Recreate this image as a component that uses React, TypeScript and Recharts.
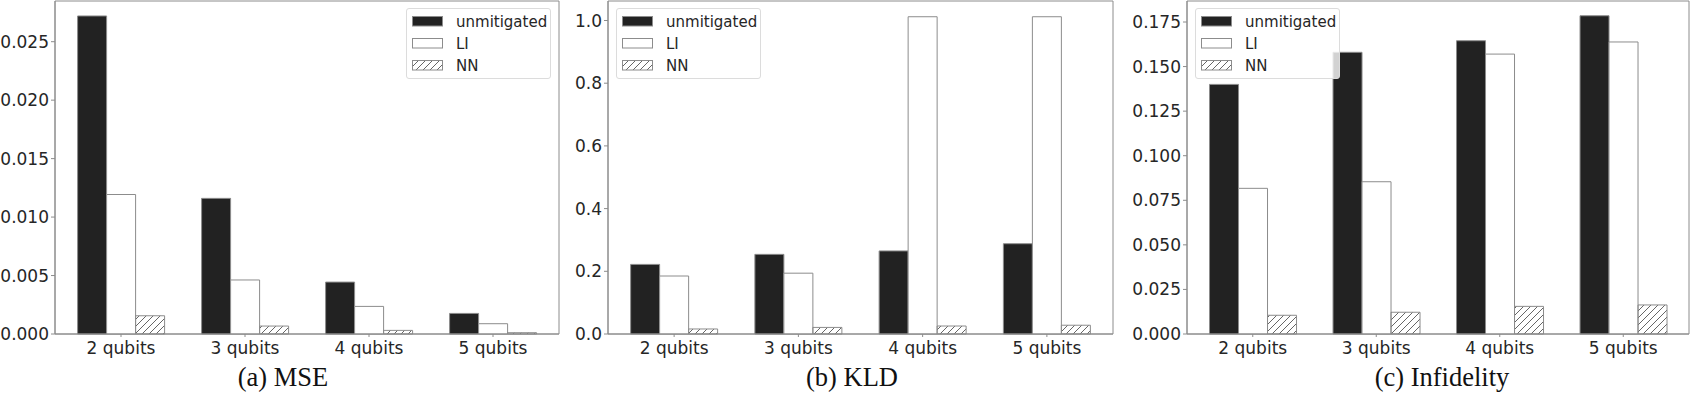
import { BarChart, Bar, XAxis, YAxis, CartesianGrid } from "recharts";

const categories = ["2 qubits", "3 qubits", "4 qubits", "5 qubits"];
const seriesNames = ["unmitigated", "LI", "NN"];

// (a) MSE
const mseUnmitigated = [0.0272, 0.0116, 0.00444, 0.00176];
const mseLI = [0.01193, 0.00462, 0.00236, 0.00088];
const mseNN = [0.00156, 0.00068, 0.00031, 0.00011];
const mseTicks = [0, 0.005, 0.01, 0.015, 0.02, 0.025];

// (b) KLD
const kldUnmitigated = [0.222, 0.254, 0.265, 0.288];
const kldLI = [0.185, 0.194, 1.012, 1.012];
const kldNN = [0.016, 0.021, 0.0255, 0.028];
const kldTicks = [0, 0.2, 0.4, 0.6, 0.8, 1.0];

// (c) Infidelity
const infUnmitigated = [0.14, 0.158, 0.1645, 0.1785];
const infLI = [0.0817, 0.0854, 0.157, 0.1638];
const infNN = [0.0105, 0.0122, 0.0155, 0.0163];
const infTicks = [0, 0.025, 0.05, 0.075, 0.1, 0.125, 0.15, 0.175];

const axisColor = "#8c8c8c";
const textColor = "#262626";
const tickFont = { fontFamily: "DejaVu Sans", fontSize: 17, fill: textColor };

const build = (a: number[], b: number[], c: number[]) =>
  categories.map((name, i) => ({ name, unmitigated: a[i], LI: b[i], NN: c[i] }));

type PanelProps = {
  id: string;
  left: number;
  width: number;
  yWidth: number;
  rightMargin: number;
  data: any[];
  ticks: number[];
  top: number;
  digits: number;
  caption: string;
  captionX: number;
  legendX: number;
};

const Hatch = ({ id }: { id: string }) => (
  <pattern id={id} patternUnits="userSpaceOnUse" width="7" height="7">
    <path d="M-1,1 l2,-2 M0,7 l7,-7 M6,8 l2,-2" stroke="#555" strokeWidth="0.9" />
  </pattern>
);

const Legend = ({ x, id }: { x: number; id: string }) => (
  <div
    style={{
      position: "absolute",
      left: x,
      top: 8,
      width: 145,
      height: 71,
      boxSizing: "border-box",
      border: "1px solid #dcdcdc",
      borderRadius: 3,
      background: "rgba(255,255,255,0.8)",
    }}
  >
    {seriesNames.map((s, i) => (
      <div
        key={s}
        style={{
          position: "absolute",
          left: 5,
          top: 6 + i * 22.2,
          height: 13,
          display: "flex",
          alignItems: "center",
          fontFamily: "DejaVu Sans",
          fontSize: 15,
          color: textColor,
        }}
      >
        <svg width={32} height={11} style={{ marginRight: 12 }}>
          <defs>
            <Hatch id={id + "-lg"} />
          </defs>
          <rect
            x={0.5}
            y={0.5}
            width={30}
            height={9.5}
            fill={i === 0 ? "#222" : i === 1 ? "#fff" : `url(#${id}-lg)`}
            stroke={axisColor}
          />
        </svg>
        {s}
      </div>
    ))}
  </div>
);

// frame lines on the plot-area edges
const hFrame = ({ offset }: any) => [offset.top, offset.top + offset.height];
const vFrame = ({ offset }: any) => [offset.left, offset.left + offset.width];

const Panel = (p: PanelProps) => (
  <>
    <div style={{ position: "absolute", left: p.left, top: 0 }}>
      <BarChart
        width={p.width}
        height={370}
        data={p.data}
        margin={{ top: 1, right: p.rightMargin, bottom: 0, left: 0 }}
        barCategoryGap="15%"
        barGap={0}
      >
        <defs>
          <Hatch id={p.id} />
        </defs>
        <CartesianGrid
          stroke={axisColor}
          horizontalCoordinatesGenerator={hFrame}
          verticalCoordinatesGenerator={vFrame}
        />
        <XAxis
          dataKey="name"
          height={36}
          interval={0}
          padding={{ left: 4, right: 4 }}
          tick={tickFont}
          tickSize={3}
          tickMargin={5}
          stroke={axisColor}
        />
        <YAxis
          width={p.yWidth}
          domain={[0, p.top]}
          ticks={p.ticks}
          tick={tickFont}
          tickSize={4}
          tickMargin={2}
          tickFormatter={(v: number) => v.toFixed(p.digits)}
          stroke={axisColor}
        />
        <Bar dataKey="unmitigated" fill="#222" stroke={axisColor} isAnimationActive={false} />
        <Bar dataKey="LI" fill="#fff" stroke={axisColor} isAnimationActive={false} />
        <Bar dataKey="NN" fill={`url(#${p.id})`} stroke={axisColor} isAnimationActive={false} />
      </BarChart>
    </div>
    <Legend x={p.legendX} id={p.id} />
    <div
      style={{
        position: "absolute",
        left: p.captionX - 150,
        width: 300,
        top: 362,
        textAlign: "center",
        fontFamily: "Liberation Serif",
        fontSize: 26.5,
        color: "#111",
        whiteSpace: "nowrap",
      }}
    >
      {p.caption}
    </div>
  </>
);

export default function App() {
  return (
    <div style={{ position: "absolute", left: 0, top: 0, width: 1691, height: 395, background: "#fff", overflow: "hidden" }}>
      <Panel
        id="ha"
        left={0}
        width={560}
        yWidth={55}
        rightMargin={1}
        data={build(mseUnmitigated, mseLI, mseNN)}
        ticks={mseTicks}
        top={0.02848}
        digits={3}
        caption="(a) MSE"
        captionX={283}
        legendX={406}
      />
      <Panel
        id="hb"
        left={560}
        width={554}
        yWidth={48}
        rightMargin={1}
        data={build(kldUnmitigated, kldLI, kldNN)}
        ticks={kldTicks}
        top={1.0622}
        digits={1}
        caption="(b) KLD"
        captionX={852}
        legendX={616}
      />
      <Panel
        id="hc"
        left={1130}
        width={561}
        yWidth={57}
        rightMargin={2}
        data={build(infUnmitigated, infLI, infNN)}
        ticks={infTicks}
        top={0.18678}
        digits={3}
        caption="(c) Infidelity"
        captionX={1442}
        legendX={1195}
      />
    </div>
  );
}
